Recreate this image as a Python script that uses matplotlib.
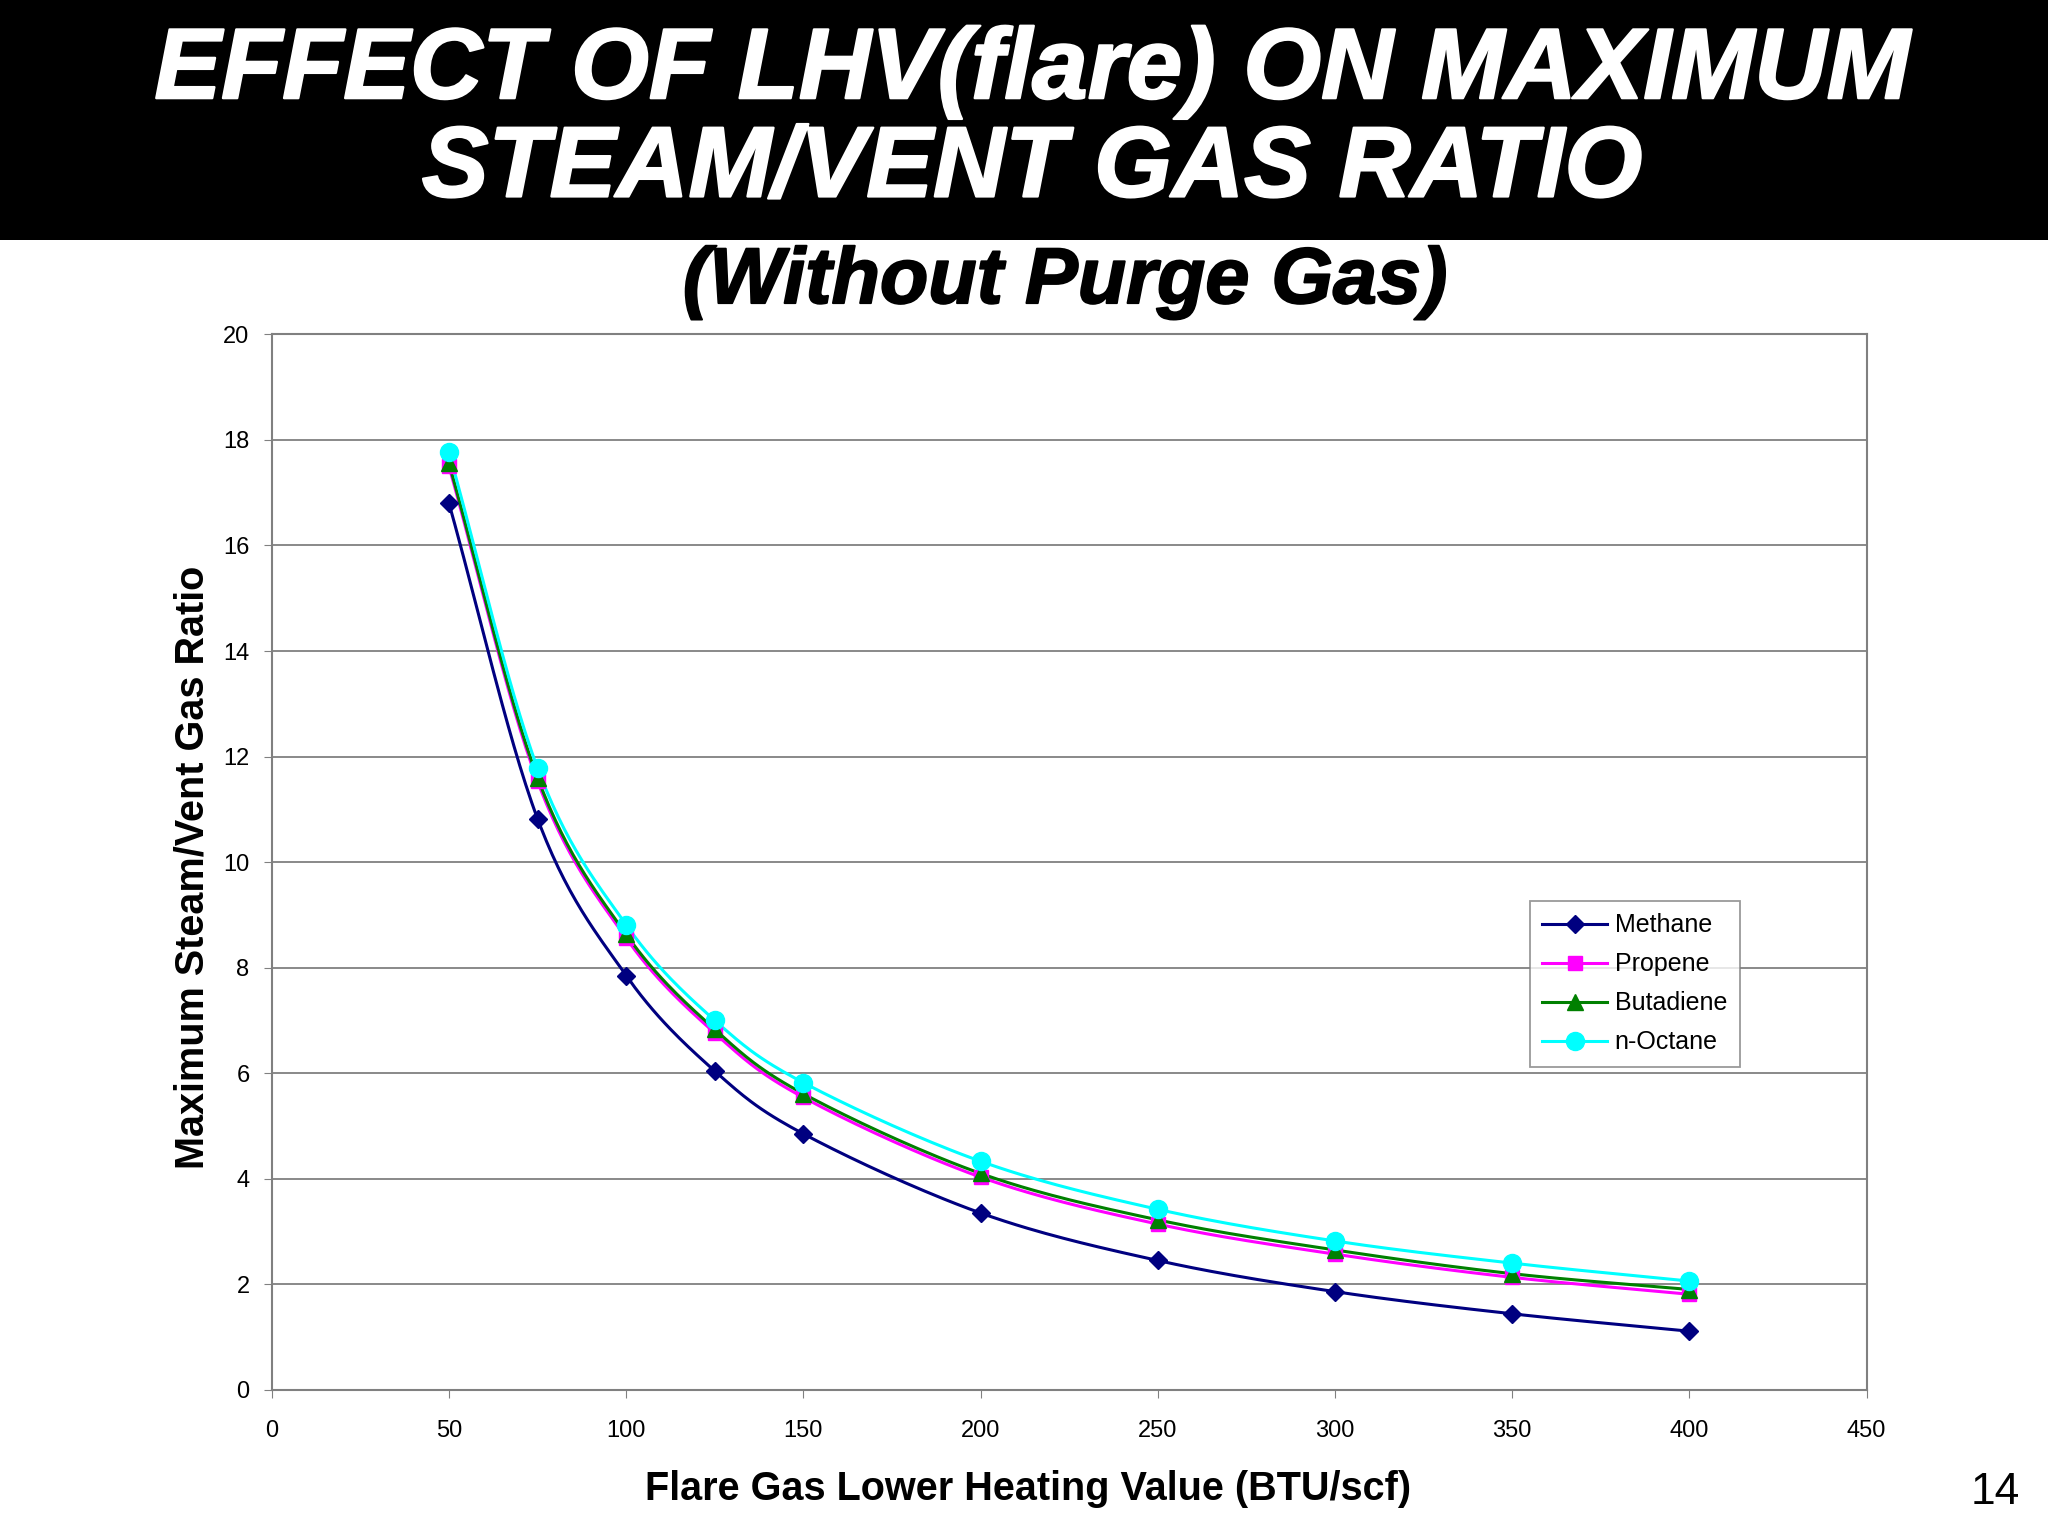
import numpy as np
import matplotlib.pyplot as plt
import matplotlib.patheffects as pe
from matplotlib.patches import Rectangle

# Data
lhv = [50, 75, 100, 125, 150, 200, 250, 300, 350, 400]
methane = [16.8, 10.82, 7.85, 6.04, 4.85, 3.35, 2.45, 1.86, 1.44, 1.11]
propene = [17.5, 11.53, 8.56, 6.76, 5.54, 4.03, 3.14, 2.57, 2.13, 1.81]
butadiene = [17.56, 11.6, 8.63, 6.83, 5.61, 4.1, 3.22, 2.65, 2.2, 1.9]
octane = [17.77, 11.78, 8.81, 7.0, 5.82, 4.33, 3.42, 2.82, 2.4, 2.06]

series = [
    ('Methane', methane, '#000080', 'D', 9),
    ('Propene', propene, '#FF00FF', 's', 10),
    ('Butadiene', butadiene, '#008000', '^', 11),
    ('n-Octane', octane, '#00FFFF', 'o', 13),
]


def smooth(xs, ys, n=30):
    # Catmull-Rom curve through the points, like Excel's smoothed lines
    xs = np.asarray(xs, float)
    ys = np.asarray(ys, float)
    px = np.concatenate([[2 * xs[0] - xs[1]], xs, [2 * xs[-1] - xs[-2]]])
    py = np.concatenate([[2 * ys[0] - ys[1]], ys, [2 * ys[-1] - ys[-2]]])
    outx, outy = [], []
    t = np.linspace(0, 1, n, endpoint=False)
    for i in range(1, len(px) - 2):
        for p, out in ((px, outx), (py, outy)):
            p0, p1, p2, p3 = p[i - 1], p[i], p[i + 1], p[i + 2]
            out.extend(0.5 * (2 * p1 + (-p0 + p2) * t
                              + (2 * p0 - 5 * p1 + 4 * p2 - p3) * t ** 2
                              + (-p0 + 3 * p1 - 3 * p2 + p3) * t ** 3))
    outx.append(xs[-1])
    outy.append(ys[-1])
    return outx, outy


plt.rcParams['font.family'] = ['Liberation Sans', 'DejaVu Sans']

fig = plt.figure(figsize=(20.48, 15.36), dpi=100)

# black header band
fig.patches.append(Rectangle((0, 0.844), 1, 0.156, transform=fig.transFigure,
                             facecolor='black', edgecolor='none', zorder=0))
thick_w = [pe.withStroke(linewidth=1.6, foreground='white')]
thick_k = [pe.withStroke(linewidth=1.4, foreground='black')]
fig.text(0.504, 0.953, 'EFFECT OF LHV(flare) ON MAXIMUM', color='white',
         fontsize=72, fontweight='bold', fontstyle='italic', ha='center',
         va='center', path_effects=thick_w)
fig.text(0.504, 0.889, 'STEAM/VENT GAS RATIO', color='white',
         fontsize=72, fontweight='bold', fontstyle='italic', ha='center',
         va='center', path_effects=thick_w)
fig.text(0.52, 0.816, '(Without Purge Gas)', color='black',
         fontsize=57, fontweight='bold', fontstyle='italic', ha='center',
         va='center', path_effects=thick_k)

ax = fig.add_axes([0.1327, 0.0952, 0.7787, 0.6871])

for name, vals, color, marker, ms in series:
    sx, sy = smooth(lhv, vals)
    ax.plot(sx, sy, '-', color=color, lw=2.2, zorder=3)
    ax.plot(lhv, vals, linestyle='none', marker=marker, color=color,
            markersize=ms, zorder=4)
    # legend proxy
    ax.plot([], [], '-', color=color, lw=2.2, marker=marker, markersize=ms, label=name)

ax.set_xlim(0, 450)
ax.set_ylim(0, 20)
ax.set_xticks(np.arange(0, 451, 50))
ax.set_yticks(np.arange(0, 21, 2))
ax.tick_params(labelsize=17, direction='out', length=6, color='#808080')
ax.tick_params(axis='x', pad=16)
ax.tick_params(axis='y', pad=10)
ax.yaxis.grid(True, color='#808080', lw=1.3)
ax.set_axisbelow(True)
for sp in ax.spines.values():
    sp.set_color('#808080')
    sp.set_linewidth(1.5)

ax.set_xlabel('Flare Gas Lower Heating Value (BTU/scf)', fontsize=28.5,
              fontweight='bold')
ax.xaxis.set_label_coords(0.474, -0.076)
ax.set_ylabel('Maximum Steam/Vent Gas Ratio', fontsize=28.5,
              fontweight='bold')
ax.yaxis.set_label_coords(-0.038, 0.495)

leg = ax.legend(loc='upper left', bbox_to_anchor=(0.781, 0.475), fontsize=18,
                frameon=True, fancybox=False, edgecolor='#808080',
                handlelength=2.6, borderpad=0.5, labelspacing=0.6,
                handletextpad=0.3)
leg.get_frame().set_linewidth(1.3)

fig.text(0.974, 0.028, '14', fontsize=32, ha='center', va='center')

fig.savefig('out.png', dpi=100)
